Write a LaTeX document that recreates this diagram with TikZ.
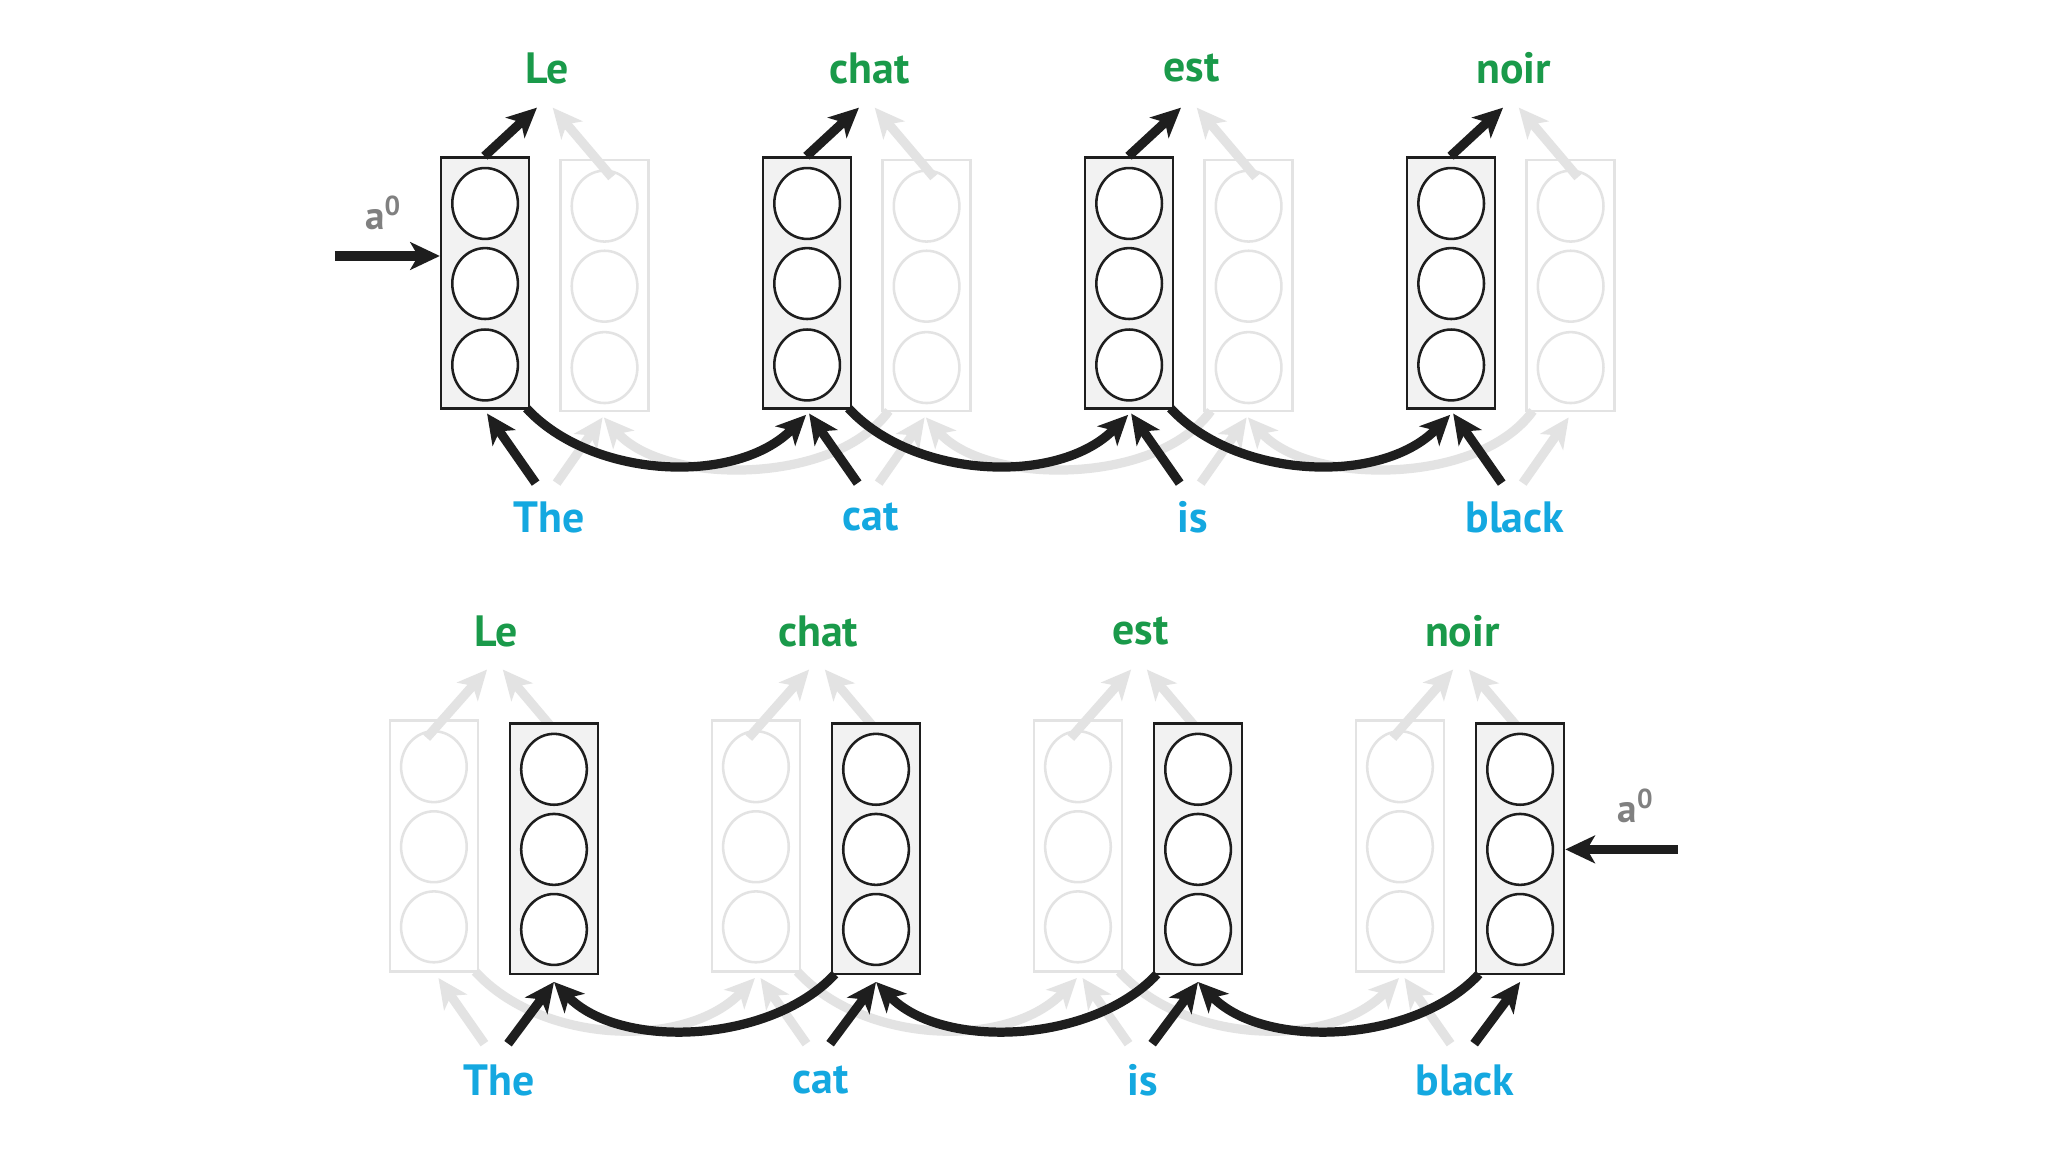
\documentclass[tikz,border=0pt]{standalone}
\usepackage{fontspec}
\setmainfont{PT Sans}
\usetikzlibrary{arrows.meta}
\definecolor{grn}{HTML}{1A9A4A}
\definecolor{blu}{HTML}{14A8E0}
\definecolor{fnt}{HTML}{E3E3E3}
\definecolor{dk}{HTML}{1E1E1E}
\begin{document}
\begin{tikzpicture}[x=0.02cm,y=-0.02cm,
  arr/.style={line width=4pt,-{Stealth[length=0.45cm,width=0.42cm,inset=0.12cm]}},
  darr/.style={arr,draw=dk},
  farr/.style={arr,draw=fnt},
  dbox/.style={draw=dk,line width=1.1pt,fill=black!5,minimum width=1.34cm,minimum height=3.82cm,inner sep=0pt},
  fbox/.style={draw=fnt,line width=1.1pt,minimum width=1.34cm,minimum height=3.82cm,inner sep=0pt},
  dcirc/.style={draw=dk,line width=1.1pt,fill=white},
  fcirc/.style={draw=fnt,line width=1.1pt},
  outlbl/.style={text=grn,font=\bfseries\fontsize{19}{22}\selectfont},
  inplbl/.style={text=blu,font=\bfseries\fontsize{19}{22}\selectfont},
  alab/.style={text=gray,font=\bfseries\fontsize{17}{20}\selectfont}]
\useasboundingbox (0,0) rectangle (1560,878);
\fill[white] (0,0) rectangle (1560,878);
% ---------- top row ----------
\foreach \i/\o/\w in {0/Le/The,1/chat/cat,2/est/is,3/noir/black}{
  \pgfmathsetmacro{\X}{336+245.3*\i}
  \node[fbox] (tf\i) at (\X+124.5,217.5) {};
  \foreach \y in {157,218,280} \draw[fcirc] (\X+124.5,\y) ellipse [x radius=25,y radius=27];
  \node[outlbl] (to\i) at (\X+81,52) {\o};
  \node[inplbl] (ti\i) at (\X+82,394) {\w};
  \coordinate (tfo\i) at (\X+130,135);
  \coordinate (tfoe\i) at (\X+85,82);
  \draw[farr] (tfo\i) -- (tfoe\i);
  \coordinate (tfi\i) at (\X+88,368);
  \coordinate (tfie\i) at (\X+123,318);
  \draw[farr] (tfi\i) -- (tfie\i);
}
\foreach \i in {0,1,2}{
  \pgfmathsetmacro{\X}{336+245.3*\i}
  \coordinate (tfr\i) at (\X+341,313);
  \coordinate (tfre\i) at (\X+124,318);
  \draw[farr] (tfr\i) .. controls (\X+300,370) and (\X+170,370) .. (tfre\i);
}
\foreach \i in {0,1,2,3}{
  \pgfmathsetmacro{\X}{336+245.3*\i}
  \node[dbox] (td\i) at (\X+33.5,215.5) {};
  \foreach \y in {155,216,278} \draw[dcirc] (\X+33.5,\y) ellipse [x radius=25,y radius=27];
  \coordinate (tdo\i) at (\X+33,119);
  \coordinate (tdoe\i) at (\X+73,82);
  \draw[darr] (tdo\i) -- (tdoe\i);
  \coordinate (tdi\i) at (\X+72,368);
  \coordinate (tdie\i) at (\X+35,315);
  \draw[darr] (tdi\i) -- (tdie\i);
}
\foreach \i in {0,1,2}{
  \pgfmathsetmacro{\X}{336+245.3*\i}
  \coordinate (tdr\i) at (\X+65,311);
  \coordinate (tdre\i) at (\X+278,316);
  \draw[darr] (tdr\i) .. controls (\X+115,365) and (\X+225,370) .. (tdre\i);
}
\coordinate (ta0) at (255,195);
\draw[darr] (ta0) -- (td0.west|-ta0);
\node[alab] (tal) at (292,162) {a$^{\mathbf{0}}$};
% ---------- bottom row ----------
\foreach \i/\o/\w in {0/Le/The,1/chat/cat,2/est/is,3/noir/black}{
  \pgfmathsetmacro{\X}{297+245.3*\i}
  \node[fbox] (bf\i) at (\X+33.5,644.5) {};
  \foreach \y in {584,645,706} \draw[fcirc] (\X+33.5,\y) ellipse [x radius=25,y radius=27];
  \node[outlbl] (bo\i) at (\X+81,481) {\o};
  \node[inplbl] (bi\i) at (\X+83,823) {\w};
  \coordinate (bfo\i) at (\X+28,562);
  \coordinate (bfoe\i) at (\X+74,510);
  \draw[farr] (bfo\i) -- (bfoe\i);
  \coordinate (bdo\i) at (\X+130,562);
  \coordinate (bdoe\i) at (\X+86,510);
  \draw[farr] (bdo\i) -- (bdoe\i);
  \coordinate (bfi\i) at (\X+72,795);
  \coordinate (bfie\i) at (\X+37,745);
  \draw[farr] (bfi\i) -- (bfie\i);
}
\foreach \i in {0,1,2}{
  \pgfmathsetmacro{\X}{297+245.3*\i}
  \coordinate (bfr\i) at (\X+65,740);
  \coordinate (bfre\i) at (\X+278,745);
  \draw[farr] (bfr\i) .. controls (\X+115,795) and (\X+225,800) .. (bfre\i);
}
\foreach \i in {0,1,2,3}{
  \pgfmathsetmacro{\X}{297+245.3*\i}
  \node[dbox] (bd\i) at (\X+125,646.5) {};
  \foreach \y in {586,647,708} \draw[dcirc] (\X+125,\y) ellipse [x radius=25,y radius=27];
  \coordinate (bdi\i) at (\X+90,795);
  \coordinate (bdie\i) at (\X+125,748);
  \draw[darr] (bdi\i) -- (bdie\i);
}
\foreach \i in {0,1,2}{
  \pgfmathsetmacro{\X}{297+245.3*\i}
  \coordinate (bdr\i) at (\X+339,742);
  \coordinate (bdre\i) at (\X+125,748);
  \draw[darr] (bdr\i) .. controls (\X+290,795) and (\X+175,800) .. (bdre\i);
}
\coordinate (ba0) at (1278,647);
\draw[darr] (ba0) -- (bd3.east|-ba0);
\node[alab] (bal) at (1246,614) {a$^{\mathbf{0}}$};
\end{tikzpicture}
\end{document}
